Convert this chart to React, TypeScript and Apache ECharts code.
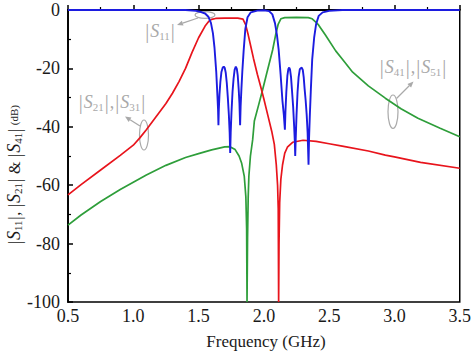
import React, { useEffect, useRef } from "react";
import * as echarts from "echarts";

// ---- Data (frequency in GHz, magnitude in dB) ----
const s11Freq = [0.5, 1.0, 1.4, 1.48, 1.52, 1.55, 1.575, 1.595, 1.61, 1.622, 1.635, 1.645, 1.649, 1.652, 1.655, 1.66, 1.667, 1.675, 1.685, 1.693, 1.7, 1.708, 1.716, 1.724, 1.732, 1.738, 1.742, 1.746, 1.752, 1.76, 1.768, 1.776, 1.785, 1.793, 1.8, 1.807, 1.813, 1.818, 1.822, 1.828, 1.835, 1.845, 1.858, 1.875, 1.9, 1.95, 2.0, 2.04, 2.065, 2.085, 2.1, 2.113, 2.128, 2.142, 2.153, 2.161, 2.165, 2.172, 2.18, 2.187, 2.194, 2.2, 2.208, 2.216, 2.224, 2.232, 2.237, 2.24, 2.244, 2.25, 2.258, 2.266, 2.275, 2.29, 2.298, 2.305, 2.312, 2.32, 2.328, 2.335, 2.342, 2.346, 2.352, 2.36, 2.37, 2.385, 2.4, 2.42, 2.45, 2.5, 2.6, 3.0, 3.5];
const s11Db = [0, 0, 0, -0.3, -0.7, -1.2, -2.3, -4.5, -8, -13, -21, -30, -34, -39.5, -34, -29, -24.5, -21.2, -19.7, -19.4, -19.8, -21.5, -25, -30, -36, -42, -49, -42, -35, -28, -23.5, -20.5, -19.4, -20.2, -22.5, -27, -32, -39.5, -33, -27, -21, -14, -6.5, -2.5, -0.8, -0.2, -0.1, -0.4, -1.5, -4.5, -8.5, -13.5, -22, -31, -36, -41, -35, -28, -22.5, -20.3, -19.7, -20.3, -23, -28, -33, -40, -45, -50, -44, -36, -28, -23, -20.3, -19.7, -20.5, -23, -27, -31, -36, -42, -53, -44, -36, -27, -17, -9.5, -4.8, -2, -0.8, -0.3, 0, 0, 0];

const s21Freq = [0.5, 0.6, 0.75, 0.9, 1.0, 1.05, 1.1, 1.15, 1.2, 1.25, 1.3, 1.35, 1.4, 1.45, 1.5, 1.55, 1.58, 1.6, 1.63, 1.7, 1.8, 1.84, 1.86, 1.88, 1.9, 1.92, 1.95, 1.98, 2.0, 2.03, 2.06, 2.08, 2.095, 2.105, 2.11, 2.113, 2.116, 2.121, 2.13, 2.143, 2.16, 2.18, 2.22, 2.3, 2.4, 2.5, 2.6, 2.8, 2.93, 3.0, 3.2, 3.5];
const s21Db = [-63.3, -59.8, -54.8, -49.8, -46.3, -43.8, -41, -38, -35, -32, -28.5, -24.5, -20, -14.5, -9.5, -5.5, -3.8, -3.2, -2.9, -2.8, -2.8, -3.1, -5, -8.5, -12.5, -16.5, -22, -27, -30.5, -36, -41.5, -46, -53, -60, -68, -100, -80, -66, -58, -53, -49, -47, -45.3, -44.6, -45, -45.8, -46.6, -48.3, -49.7, -50.3, -52.2, -54.2];

const s41Freq = [0.5, 0.6, 0.75, 0.9, 1.0, 1.1, 1.25, 1.4, 1.5, 1.6, 1.7, 1.74, 1.78, 1.81, 1.83, 1.85, 1.862, 1.868, 1.871, 1.875, 1.88, 1.885, 1.897, 1.914, 1.927, 1.96, 1.99, 2.02, 2.067, 2.09, 2.11, 2.13, 2.16, 2.25, 2.34, 2.37, 2.4, 2.42, 2.47, 2.55, 2.6, 2.68, 2.8, 2.93, 3.05, 3.18, 3.35, 3.5];
const s41Db = [-73.7, -70.2, -65.6, -61.5, -59, -56.5, -53.2, -50.5, -49.2, -47.9, -46.9, -46.8, -47.8, -50, -52.5, -57, -64, -75, -100, -78, -64, -57, -50, -44.5, -38, -32.5, -27.4, -22, -13.7, -8.5, -4.8, -3, -2.6, -2.5, -2.6, -3, -4.2, -5.2, -8.5, -14, -16.8, -21.3, -26, -30.2, -33.8, -37.1, -40.5, -43.4];

const xTicks = { min: 0.5, max: 3.5, step: 0.5 };
const yTicks = { min: -100, max: 0, step: 20 };

const zip = (xs: number[], ys: number[]) => xs.map((x, i) => [x, ys[i]]);

const GRAY = "#a9a9a9";
const INK = "#1a1a1a";
const SERIF = "Liberation Serif";

function arrow(x1: number, y1: number, x2: number, y2: number) {
  const dx = x2 - x1, dy = y2 - y1;
  const len = Math.hypot(dx, dy);
  const ux = dx / len, uy = dy / len;
  const L = 6, W = 2.6;
  const bx = x2 - ux * L, by = y2 - uy * L;
  return [
    { type: "line", shape: { x1, y1, x2: bx, y2: by }, style: { stroke: GRAY, lineWidth: 1.3 } },
    {
      type: "polygon",
      shape: { points: [[x2, y2], [bx - uy * W, by + ux * W], [bx + uy * W, by - ux * W]] },
      style: { fill: GRAY },
    },
  ];
}

const richSet = (c: string, size: number, bar: number, sub: number, n: number, d: number, subPad: number, barPad: number) => ({
  b: { fontFamily: SERIF, fontSize: bar, fill: c, color: c, padding: [0, barPad, 0, barPad] },
  s: { fontFamily: SERIF, fontStyle: "italic", fontSize: size, fill: c, color: c },
  sub: { fontFamily: SERIF, fontSize: sub, fill: c, color: c, verticalAlign: "bottom", padding: [subPad, 0, 0, 0] },
  n: { fontFamily: SERIF, fontSize: n, fill: c, color: c },
  d: { fontFamily: SERIF, fontSize: d, fill: c, color: c },
});

export default function App() {
  const ref = useRef<HTMLDivElement>(null);
  useEffect(() => {
    if (!ref.current) return;
    const chart = echarts.init(ref.current, undefined, { renderer: "svg" });
    const annRich = richSet(GRAY, 18, 20, 11, 18, 11, 4, 1);
    const yRich = richSet(INK, 18, 19, 11, 16, 11, 5, 0.5);
    chart.setOption({
      animation: false,
      grid: { left: 68, right: 13, top: 10, bottom: 49, show: true, borderColor: "#000", borderWidth: 1.5 },
      xAxis: {
        type: "value",
        min: xTicks.min,
        max: xTicks.max,
        interval: xTicks.step,
        axisLine: { lineStyle: { color: "#000", width: 1.8 } },
        axisTick: { inside: true, length: 5, lineStyle: { color: "#000", width: 1.5 } },
        minorTick: { show: true, splitNumber: 2, length: 3, lineStyle: { color: "#000", width: 1.2 } },
        splitLine: { show: false },
        axisLabel: { fontFamily: SERIF, fontSize: 18, color: INK, margin: 5, formatter: (v: number) => v.toFixed(1) },
      },
      yAxis: {
        type: "value",
        min: yTicks.min,
        max: yTicks.max,
        interval: yTicks.step,
        axisLine: { lineStyle: { color: "#000", width: 1.8 } },
        axisTick: { inside: true, length: 5, lineStyle: { color: "#000", width: 1.5 } },
        minorTick: { show: true, splitNumber: 2, length: 3, lineStyle: { color: "#000", width: 1.2 } },
        splitLine: { show: false },
        axisLabel: { fontFamily: SERIF, fontSize: 18, color: INK, margin: 8 },
      },
      series: [
        { type: "line", data: zip(s41Freq, s41Db), showSymbol: false, lineStyle: { color: "#2e9e3a", width: 1.7 }, z: 2 },
        { type: "line", data: zip(s21Freq, s21Db), showSymbol: false, lineStyle: { color: "#e8141c", width: 1.7 }, z: 3 },
        { type: "line", data: zip(s11Freq, s11Db), showSymbol: false, lineStyle: { color: "#1c1ce0", width: 1.9 }, z: 4 },
      ],
      graphic: [
        {
          type: "text",
          x: 266, y: 341,
          style: { text: "Frequency (GHz)", fontFamily: SERIF, fontSize: 17, fill: INK, align: "center", verticalAlign: "middle" },
        },
        {
          type: "text",
          x: 14, y: 175, rotation: Math.PI / 2,
          style: {
            text: "{b||}{s|S}{sub|11}{b||}{n|, }{b||}{s|S}{sub|21}{b||}{n| & }{b||}{s|S}{sub|41}{b||}{d| (dB)}",
            rich: yRich, align: "center", verticalAlign: "middle",
          },
        },
        {
          type: "text", x: 160, y: 31,
          style: { text: "{b||}{s|S}{sub|11}{b||}", rich: annRich, align: "center", verticalAlign: "middle" },
        },
        {
          type: "text", x: 112, y: 102,
          style: { text: "{b||}{s|S}{sub|21}{b||}{n|,}{b||}{s|S}{sub|31}{b||}", rich: annRich, align: "center", verticalAlign: "middle" },
        },
        {
          type: "text", x: 413, y: 67,
          style: { text: "{b||}{s|S}{sub|41}{b||}{n|,}{b||}{s|S}{sub|51}{b||}", rich: annRich, align: "center", verticalAlign: "middle" },
        },
        { type: "ellipse", shape: { cx: 205, cy: 15, rx: 10, ry: 3.3 }, style: { fill: "none", stroke: GRAY, lineWidth: 1.2 } },
        { type: "ellipse", shape: { cx: 144, cy: 135, rx: 4.5, ry: 15 }, style: { fill: "none", stroke: GRAY, lineWidth: 1.2 } },
        { type: "ellipse", shape: { cx: 393, cy: 111.7, rx: 5, ry: 16.7 }, style: { fill: "none", stroke: GRAY, lineWidth: 1.2 } },
        ...arrow(198, 18, 177, 25),
        ...arrow(140, 126, 125, 116.5),
        ...arrow(396.5, 98.5, 413.5, 81.5),
      ],
    });
    return () => chart.dispose();
  }, []);
  return <div ref={ref} style={{ position: "fixed", left: 0, top: 0, width: 474, height: 351, background: "#fff" }} />;
}
